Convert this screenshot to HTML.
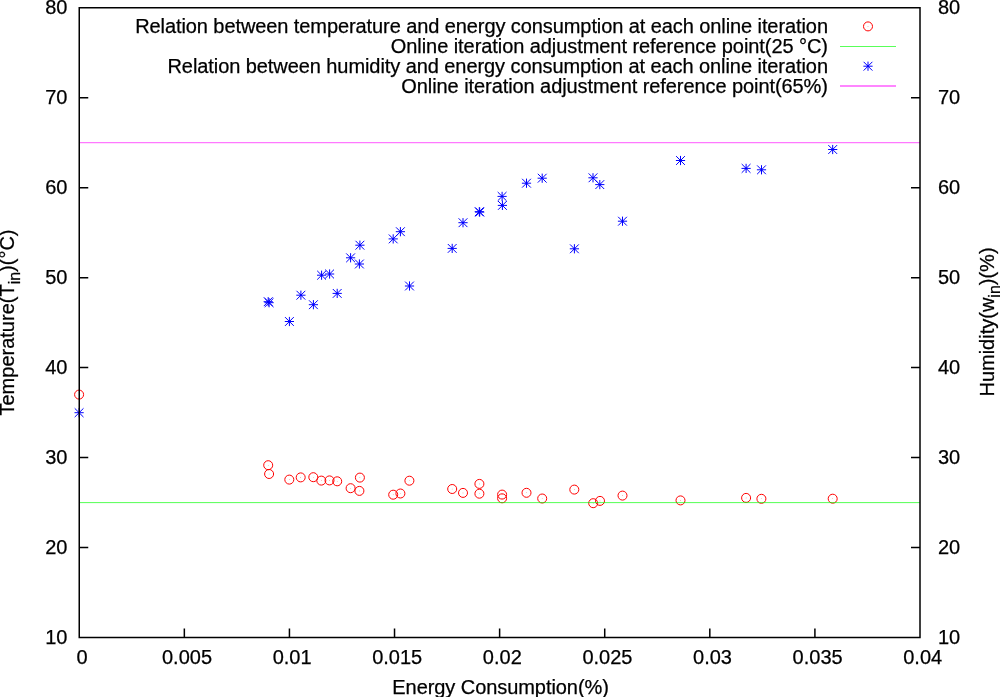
<!DOCTYPE html>
<html><head><meta charset="utf-8"><title>Temperature and humidity vs energy consumption</title><style>
html,body{margin:0;padding:0;background:#fff;width:1000px;height:697px;overflow:hidden}
svg{display:block}
text{font-family:"Liberation Sans",Arial,sans-serif;font-size:20px;fill:#000;stroke:#000;stroke-width:0.25px}
</style></head><body>
<svg width="1000" height="697" viewBox="0 0 1000 697">
<rect x="0" y="0" width="1000" height="697" fill="#fff"/>
<g stroke="#ff0000" stroke-width="1" fill="none">
<circle cx="79.1" cy="394.6" r="4.5"/><circle cx="79.1" cy="394.6" r="0.3" fill="#f00" stroke="none"/>
<circle cx="268.2" cy="465.2" r="4.5"/><circle cx="268.2" cy="465.2" r="0.3" fill="#f00" stroke="none"/>
<circle cx="269.1" cy="474.0" r="4.5"/><circle cx="269.1" cy="474.0" r="0.3" fill="#f00" stroke="none"/>
<circle cx="289.3" cy="479.6" r="4.5"/><circle cx="289.3" cy="479.6" r="0.3" fill="#f00" stroke="none"/>
<circle cx="300.7" cy="477.4" r="4.5"/><circle cx="300.7" cy="477.4" r="0.3" fill="#f00" stroke="none"/>
<circle cx="313.3" cy="477.2" r="4.5"/><circle cx="313.3" cy="477.2" r="0.3" fill="#f00" stroke="none"/>
<circle cx="321.3" cy="480.6" r="4.5"/><circle cx="321.3" cy="480.6" r="0.3" fill="#f00" stroke="none"/>
<circle cx="329.5" cy="480.4" r="4.5"/><circle cx="329.5" cy="480.4" r="0.3" fill="#f00" stroke="none"/>
<circle cx="337.2" cy="481.3" r="4.5"/><circle cx="337.2" cy="481.3" r="0.3" fill="#f00" stroke="none"/>
<circle cx="350.6" cy="488.2" r="4.5"/><circle cx="350.6" cy="488.2" r="0.3" fill="#f00" stroke="none"/>
<circle cx="359.9" cy="477.6" r="4.5"/><circle cx="359.9" cy="477.6" r="0.3" fill="#f00" stroke="none"/>
<circle cx="359.4" cy="490.9" r="4.5"/><circle cx="359.4" cy="490.9" r="0.3" fill="#f00" stroke="none"/>
<circle cx="393.2" cy="494.7" r="4.5"/><circle cx="393.2" cy="494.7" r="0.3" fill="#f00" stroke="none"/>
<circle cx="400.4" cy="493.5" r="4.5"/><circle cx="400.4" cy="493.5" r="0.3" fill="#f00" stroke="none"/>
<circle cx="409.4" cy="480.7" r="4.5"/><circle cx="409.4" cy="480.7" r="0.3" fill="#f00" stroke="none"/>
<circle cx="452.2" cy="489.0" r="4.5"/><circle cx="452.2" cy="489.0" r="0.3" fill="#f00" stroke="none"/>
<circle cx="463.0" cy="492.9" r="4.5"/><circle cx="463.0" cy="492.9" r="0.3" fill="#f00" stroke="none"/>
<circle cx="479.4" cy="483.9" r="4.5"/><circle cx="479.4" cy="483.9" r="0.3" fill="#f00" stroke="none"/>
<circle cx="479.4" cy="493.7" r="4.5"/><circle cx="479.4" cy="493.7" r="0.3" fill="#f00" stroke="none"/>
<circle cx="502.1" cy="494.6" r="4.5"/><circle cx="502.1" cy="494.6" r="0.3" fill="#f00" stroke="none"/>
<circle cx="502.1" cy="498.3" r="4.5"/><circle cx="502.1" cy="498.3" r="0.3" fill="#f00" stroke="none"/>
<circle cx="526.5" cy="492.8" r="4.5"/><circle cx="526.5" cy="492.8" r="0.3" fill="#f00" stroke="none"/>
<circle cx="542.2" cy="498.5" r="4.5"/><circle cx="542.2" cy="498.5" r="0.3" fill="#f00" stroke="none"/>
<circle cx="574.3" cy="489.6" r="4.5"/><circle cx="574.3" cy="489.6" r="0.3" fill="#f00" stroke="none"/>
<circle cx="593.2" cy="503.2" r="4.5"/><circle cx="593.2" cy="503.2" r="0.3" fill="#f00" stroke="none"/>
<circle cx="600.0" cy="500.9" r="4.5"/><circle cx="600.0" cy="500.9" r="0.3" fill="#f00" stroke="none"/>
<circle cx="622.5" cy="495.6" r="4.5"/><circle cx="622.5" cy="495.6" r="0.3" fill="#f00" stroke="none"/>
<circle cx="680.5" cy="500.4" r="4.5"/><circle cx="680.5" cy="500.4" r="0.3" fill="#f00" stroke="none"/>
<circle cx="746.1" cy="497.9" r="4.5"/><circle cx="746.1" cy="497.9" r="0.3" fill="#f00" stroke="none"/>
<circle cx="761.4" cy="498.8" r="4.5"/><circle cx="761.4" cy="498.8" r="0.3" fill="#f00" stroke="none"/>
<circle cx="832.7" cy="498.7" r="4.5"/><circle cx="832.7" cy="498.7" r="0.3" fill="#f00" stroke="none"/>
</g>
<line x1="79.25" y1="502.5" x2="920.0" y2="502.5" stroke="#00ff00" stroke-opacity="0.6" stroke-width="1"/>
<line x1="79.25" y1="503.5" x2="920.0" y2="503.5" stroke="#00ff00" stroke-opacity="0.07" stroke-width="1"/>
<g stroke="#0000ff" stroke-width="1" fill="none">
<path d="M74.50,412.7h9.2M79.1,408.10v9.2M74.70,408.30l8.8,8.8M74.70,417.10l8.8,-8.8"/><circle cx="79.1" cy="412.7" r="0.9" fill="#00f" stroke="none"/>
<path d="M263.60,301.7h9.2M268.2,297.10v9.2M263.80,297.30l8.8,8.8M263.80,306.10l8.8,-8.8"/><circle cx="268.2" cy="301.7" r="0.9" fill="#00f" stroke="none"/>
<path d="M264.50,302.7h9.2M269.1,298.10v9.2M264.70,298.30l8.8,8.8M264.70,307.10l8.8,-8.8"/><circle cx="269.1" cy="302.7" r="0.9" fill="#00f" stroke="none"/>
<path d="M284.80,321.5h9.2M289.4,316.90v9.2M285.00,317.10l8.8,8.8M285.00,325.90l8.8,-8.8"/><circle cx="289.4" cy="321.5" r="0.9" fill="#00f" stroke="none"/>
<path d="M296.30,295.2h9.2M300.9,290.60v9.2M296.50,290.80l8.8,8.8M296.50,299.60l8.8,-8.8"/><circle cx="300.9" cy="295.2" r="0.9" fill="#00f" stroke="none"/>
<path d="M308.80,304.7h9.2M313.4,300.10v9.2M309.00,300.30l8.8,8.8M309.00,309.10l8.8,-8.8"/><circle cx="313.4" cy="304.7" r="0.9" fill="#00f" stroke="none"/>
<path d="M317.00,275.2h9.2M321.6,270.60v9.2M317.20,270.80l8.8,8.8M317.20,279.60l8.8,-8.8"/><circle cx="321.6" cy="275.2" r="0.9" fill="#00f" stroke="none"/>
<path d="M325.00,274.0h9.2M329.6,269.40v9.2M325.20,269.60l8.8,8.8M325.20,278.40l8.8,-8.8"/><circle cx="329.6" cy="274.0" r="0.9" fill="#00f" stroke="none"/>
<path d="M332.60,293.4h9.2M337.2,288.80v9.2M332.80,289.00l8.8,8.8M332.80,297.80l8.8,-8.8"/><circle cx="337.2" cy="293.4" r="0.9" fill="#00f" stroke="none"/>
<path d="M346.00,257.8h9.2M350.6,253.20v9.2M346.20,253.40l8.8,8.8M346.20,262.20l8.8,-8.8"/><circle cx="350.6" cy="257.8" r="0.9" fill="#00f" stroke="none"/>
<path d="M355.30,245.2h9.2M359.9,240.60v9.2M355.50,240.80l8.8,8.8M355.50,249.60l8.8,-8.8"/><circle cx="359.9" cy="245.2" r="0.9" fill="#00f" stroke="none"/>
<path d="M354.80,264.0h9.2M359.4,259.40v9.2M355.00,259.60l8.8,8.8M355.00,268.40l8.8,-8.8"/><circle cx="359.4" cy="264.0" r="0.9" fill="#00f" stroke="none"/>
<path d="M388.60,238.9h9.2M393.2,234.30v9.2M388.80,234.50l8.8,8.8M388.80,243.30l8.8,-8.8"/><circle cx="393.2" cy="238.9" r="0.9" fill="#00f" stroke="none"/>
<path d="M395.80,231.7h9.2M400.4,227.10v9.2M396.00,227.30l8.8,8.8M396.00,236.10l8.8,-8.8"/><circle cx="400.4" cy="231.7" r="0.9" fill="#00f" stroke="none"/>
<path d="M404.90,286.0h9.2M409.5,281.40v9.2M405.10,281.60l8.8,8.8M405.10,290.40l8.8,-8.8"/><circle cx="409.5" cy="286.0" r="0.9" fill="#00f" stroke="none"/>
<path d="M447.60,248.4h9.2M452.2,243.80v9.2M447.80,244.00l8.8,8.8M447.80,252.80l8.8,-8.8"/><circle cx="452.2" cy="248.4" r="0.9" fill="#00f" stroke="none"/>
<path d="M458.40,222.7h9.2M463.0,218.10v9.2M458.60,218.30l8.8,8.8M458.60,227.10l8.8,-8.8"/><circle cx="463.0" cy="222.7" r="0.9" fill="#00f" stroke="none"/>
<path d="M474.70,211.7h9.2M479.3,207.10v9.2M474.90,207.30l8.8,8.8M474.90,216.10l8.8,-8.8"/><circle cx="479.3" cy="211.7" r="0.9" fill="#00f" stroke="none"/>
<path d="M475.10,212.1h9.2M479.7,207.50v9.2M475.30,207.70l8.8,8.8M475.30,216.50l8.8,-8.8"/><circle cx="479.7" cy="212.1" r="0.9" fill="#00f" stroke="none"/>
<path d="M497.50,196.4h9.2M502.1,191.80v9.2M497.70,192.00l8.8,8.8M497.70,200.80l8.8,-8.8"/><circle cx="502.1" cy="196.4" r="0.9" fill="#00f" stroke="none"/>
<path d="M497.80,205.4h9.2M502.4,200.80v9.2M498.00,201.00l8.8,8.8M498.00,209.80l8.8,-8.8"/><circle cx="502.4" cy="205.4" r="0.9" fill="#00f" stroke="none"/>
<path d="M521.90,183.2h9.2M526.5,178.60v9.2M522.10,178.80l8.8,8.8M522.10,187.60l8.8,-8.8"/><circle cx="526.5" cy="183.2" r="0.9" fill="#00f" stroke="none"/>
<path d="M537.60,178.2h9.2M542.2,173.60v9.2M537.80,173.80l8.8,8.8M537.80,182.60l8.8,-8.8"/><circle cx="542.2" cy="178.2" r="0.9" fill="#00f" stroke="none"/>
<path d="M569.80,248.8h9.2M574.4,244.20v9.2M570.00,244.40l8.8,8.8M570.00,253.20l8.8,-8.8"/><circle cx="574.4" cy="248.8" r="0.9" fill="#00f" stroke="none"/>
<path d="M588.40,177.8h9.2M593.0,173.20v9.2M588.60,173.40l8.8,8.8M588.60,182.20l8.8,-8.8"/><circle cx="593.0" cy="177.8" r="0.9" fill="#00f" stroke="none"/>
<path d="M595.20,184.6h9.2M599.8,180.00v9.2M595.40,180.20l8.8,8.8M595.40,189.00l8.8,-8.8"/><circle cx="599.8" cy="184.6" r="0.9" fill="#00f" stroke="none"/>
<path d="M617.90,221.2h9.2M622.5,216.60v9.2M618.10,216.80l8.8,8.8M618.10,225.60l8.8,-8.8"/><circle cx="622.5" cy="221.2" r="0.9" fill="#00f" stroke="none"/>
<path d="M675.90,160.5h9.2M680.5,155.90v9.2M676.10,156.10l8.8,8.8M676.10,164.90l8.8,-8.8"/><circle cx="680.5" cy="160.5" r="0.9" fill="#00f" stroke="none"/>
<path d="M741.50,168.4h9.2M746.1,163.80v9.2M741.70,164.00l8.8,8.8M741.70,172.80l8.8,-8.8"/><circle cx="746.1" cy="168.4" r="0.9" fill="#00f" stroke="none"/>
<path d="M756.90,169.8h9.2M761.5,165.20v9.2M757.10,165.40l8.8,8.8M757.10,174.20l8.8,-8.8"/><circle cx="761.5" cy="169.8" r="0.9" fill="#00f" stroke="none"/>
<path d="M828.10,149.5h9.2M832.7,144.90v9.2M828.30,145.10l8.8,8.8M828.30,153.90l8.8,-8.8"/><circle cx="832.7" cy="149.5" r="0.9" fill="#00f" stroke="none"/>
</g>
<line x1="79.25" y1="142.5" x2="920.0" y2="142.5" stroke="#ff00ff" stroke-opacity="0.53" stroke-width="1"/>
<line x1="79.25" y1="143.5" x2="920.0" y2="143.5" stroke="#ff00ff" stroke-opacity="0.13" stroke-width="1"/>
<text x="828" y="33" text-anchor="end" textLength="692.8" lengthAdjust="spacing">Relation between temperature and energy consumption at each online iteration</text>
<text x="828" y="53" text-anchor="end" textLength="437.2" lengthAdjust="spacing">Online iteration adjustment reference point(25 °C)</text>
<text x="828" y="73" text-anchor="end" textLength="660.5" lengthAdjust="spacing">Relation between humidity and energy consumption at each online iteration</text>
<text x="828" y="93" text-anchor="end" textLength="426.7" lengthAdjust="spacing">Online iteration adjustment reference point(65%)</text>
<g stroke="#ff0000" stroke-width="1" fill="none"><circle cx="868" cy="26.4" r="4.5"/><circle cx="868" cy="26.4" r="0.3" fill="#f00" stroke="none"/></g>
<line x1="840" y1="46.5" x2="896" y2="46.5" stroke="#00ff00" stroke-opacity="0.65" stroke-width="1"/>
<g stroke="#0000ff" stroke-width="1" fill="none"><path d="M863.40,66.2h9.2M868,61.60v9.2M863.60,61.80l8.8,8.8M863.60,70.60l8.8,-8.8"/><circle cx="868" cy="66.2" r="0.9" fill="#00f" stroke="none"/></g>
<line x1="840" y1="86" x2="896" y2="86" stroke="#ff00ff" stroke-opacity="0.95" stroke-width="1"/>
<text x="67.5" y="643.80" text-anchor="end">10</text>
<text x="938" y="643.80">10</text>
<text x="67.5" y="553.84" text-anchor="end">20</text>
<text x="938" y="553.84">20</text>
<text x="67.5" y="463.87" text-anchor="end">30</text>
<text x="938" y="463.87">30</text>
<text x="67.5" y="373.91" text-anchor="end">40</text>
<text x="938" y="373.91">40</text>
<text x="67.5" y="283.94" text-anchor="end">50</text>
<text x="938" y="283.94">50</text>
<text x="67.5" y="193.98" text-anchor="end">60</text>
<text x="938" y="193.98">60</text>
<text x="67.5" y="104.01" text-anchor="end">70</text>
<text x="938" y="104.01">70</text>
<text x="67.5" y="14.05" text-anchor="end">80</text>
<text x="938" y="14.05">80</text>
<text x="81.95" y="664" text-anchor="middle">0</text>
<text x="187.04" y="664" text-anchor="middle">0.005</text>
<text x="292.14" y="664" text-anchor="middle">0.01</text>
<text x="397.23" y="664" text-anchor="middle">0.015</text>
<text x="502.32" y="664" text-anchor="middle">0.02</text>
<text x="607.42" y="664" text-anchor="middle">0.025</text>
<text x="712.51" y="664" text-anchor="middle">0.03</text>
<text x="817.61" y="664" text-anchor="middle">0.035</text>
<text x="922.70" y="664" text-anchor="middle">0.04</text>
<text x="500.6" y="694.2" text-anchor="middle" textLength="216.6" lengthAdjust="spacing">Energy Consumption(%)</text>
<text transform="translate(14.0,322.5) rotate(-90)" text-anchor="middle">Temperature(T<tspan font-size="16" dy="6.2">in</tspan><tspan dy="-6.2">)(°C)</tspan></text>
<text transform="translate(993.8,322) rotate(-90)" text-anchor="middle">Humidity(w<tspan font-size="16" dy="5.7">in</tspan><tspan dy="-5.7">)(%)</tspan></text>
<path d="M79.25,547.54h9M920.0,547.54h-9M79.25,457.57h9M920.0,457.57h-9M79.25,367.61h9M920.0,367.61h-9M79.25,277.64h9M920.0,277.64h-9M79.25,187.68h9M920.0,187.68h-9M79.25,97.71h9M920.0,97.71h-9M184.34,637.5v-9M289.44,637.5v-9M394.53,637.5v-9M499.62,637.5v-9M604.72,637.5v-9M709.81,637.5v-9M814.91,637.5v-9" stroke="#000" stroke-width="1.5" fill="none"/>
<rect x="79.25" y="7.75" width="840.75" height="629.75" stroke="#000" stroke-width="1.5" fill="none"/>
</svg></body></html>
